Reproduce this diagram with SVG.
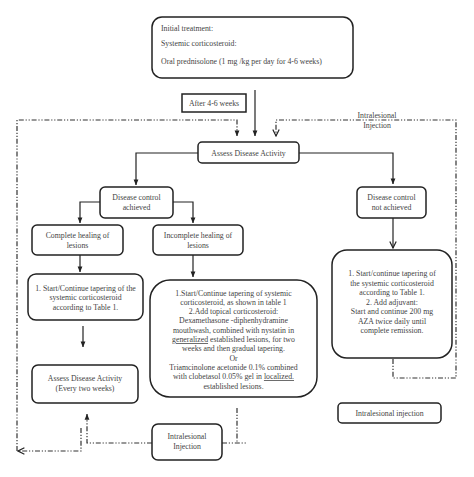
<svg xmlns="http://www.w3.org/2000/svg" width="474" height="477" viewBox="0 0 474 477">
<style>
.bg{fill:#fff}
.box{fill:#fff;stroke:#222;stroke-width:1.5}
.t{font-family:"Liberation Serif","Times New Roman",serif;font-size:7.8px;fill:#444}
.c{text-anchor:middle}
.ln{fill:none;stroke:#222;stroke-width:1.2}
.dd{fill:none;stroke:#333;stroke-width:1.2;stroke-dasharray:5 1.8 1.2 1.8 1.2 1.8}
.u{text-decoration:underline}
</style>
<defs>
<marker id="arr" viewBox="0 0 8 8" refX="7.5" refY="4" markerWidth="6" markerHeight="6" markerUnits="userSpaceOnUse" orient="auto">
<path d="M0,0.8 L8,4 L0,7.2 z" fill="#222"/>
</marker>
<marker id="open" viewBox="0 0 10 10" refX="9" refY="5" markerWidth="8" markerHeight="8" markerUnits="userSpaceOnUse" orient="auto">
<path d="M1,1 L9,5 L1,9" fill="none" stroke="#222" stroke-width="1.5"/>
</marker>
</defs>
<rect class="bg" x="0" y="0" width="474" height="477"/>

<g id="connectors">
<path class="ln" d="M255,90 V136" marker-end="url(#arr)"/>
<path class="dd" d="M81,428 V451 H18" marker-end="url(#open)"/>
<path class="dd" d="M17,451 V120 H237 V136" marker-end="url(#arr)"/>
<path class="dd" d="M393,359 V378 H456 V120 H276 V136" marker-end="url(#open)"/>
<path class="ln" d="M198,153 H136 V185" marker-end="url(#arr)"/>
<path class="ln" d="M299,153 H393 V184" marker-end="url(#arr)"/>
<path class="ln" d="M100,202 H80 V223" marker-end="url(#arr)"/>
<path class="ln" d="M173,202 H193 V223" marker-end="url(#arr)"/>
<path class="ln" d="M393,218 V248" marker-end="url(#open)"/>
<path class="ln" d="M80,255 V272" marker-end="url(#arr)"/>
<path class="ln" d="M193,255 V277" marker-end="url(#arr)"/>
<path class="ln" d="M83,326 V347" marker-end="url(#arr)"/>
<path class="dd" d="M237,408 V443"/>
<path class="dd" d="M222,443 H247"/>
<path class="dd" d="M152,443 H87 V414" marker-end="url(#arr)"/>
<text class="t c" x="377" y="118">Intralesional</text>
<text class="t c" x="377" y="128">Injection</text>
</g>

<g id="initial">
<rect class="box" x="152" y="17" width="201" height="61" rx="10"/>
<text class="t" x="161" y="31">Initial treatment:</text>
<text class="t" x="161" y="46">Systemic corticosteroid:</text>
<text class="t" x="161" y="64">Oral prednisolone (1 mg /kg per day for 4-6 weeks)</text>
</g>

<g id="after">
<rect class="box" x="182" y="94" width="64" height="18"/>
<text class="t c" x="214" y="106">After 4-6 weeks</text>
</g>

<g id="assess">
<rect class="box" x="198" y="142" width="101" height="21" rx="4"/>
<text class="t c" x="248.5" y="155.5">Assess Disease Activity</text>
</g>

<g id="achieved">
<rect class="box" x="100" y="187" width="73" height="31" rx="5"/>
<text class="t c" x="136.5" y="200">Disease control</text>
<text class="t c" x="136.5" y="210">achieved</text>
</g>

<g id="notachieved">
<rect class="box" x="357" y="187" width="69" height="31" rx="5"/>
<text class="t c" x="391.5" y="200">Disease control</text>
<text class="t c" x="391.5" y="210">not achieved</text>
</g>

<g id="complete">
<rect class="box" x="32" y="225" width="91" height="30" rx="5"/>
<text class="t c" x="77.5" y="237.5">Complete healing of</text>
<text class="t c" x="77.5" y="247.5">lesions</text>
</g>

<g id="incomplete">
<rect class="box" x="153" y="225" width="90" height="30" rx="5"/>
<text class="t c" x="198" y="237.5">Incomplete healing of</text>
<text class="t c" x="198" y="247.5">lesions</text>
</g>

<g id="taper-left">
<rect class="box" x="28" y="274" width="115" height="46" rx="8"/>
<text class="t c" x="85.5" y="290.5">1. Start/Continue tapering of the</text>
<text class="t c" x="85.5" y="300">systemic corticosteroid</text>
<text class="t c" x="85.5" y="309.5">according to Table 1.</text>
</g>

<g id="topical">
<rect class="box" x="150" y="280" width="167" height="117" rx="20"/>
<text class="t c" x="233.5" y="295.5">1.Start/Continue tapering of systemic</text>
<text class="t c" x="233.5" y="304.8">corticosteroid, as shown in table 1</text>
<text class="t c" x="233.5" y="314.1">2.Add topical corticosteroid:</text>
<text class="t c" x="233.5" y="323.4">Dexamethasone -diphenhydramine</text>
<text class="t c" x="233.5" y="332.7">mouthwash, combined with nystatin in</text>
<text class="t c" x="233.5" y="342"><tspan class="u">generalized</tspan> established lesions, for two</text>
<text class="t c" x="233.5" y="351.3">weeks and then gradual tapering.</text>
<text class="t c" x="233.5" y="360.6">Or</text>
<text class="t c" x="233.5" y="369.9">Triamcinolone acetonide 0.1% combined</text>
<text class="t c" x="233.5" y="379.2">with clobetasol 0.05% gel in <tspan class="u">localized.</tspan></text>
<text class="t c" x="233.5" y="388.5">established lesions.</text>
</g>

<g id="aza">
<rect class="box" x="332" y="250" width="120" height="108" rx="15"/>
<text class="t c" x="392" y="276">1. Start/continue tapering of</text>
<text class="t c" x="392" y="285.5">the systemic corticosteroid</text>
<text class="t c" x="392" y="295">according to Table 1.</text>
<text class="t c" x="392" y="304.5">2. Add adjuvant:</text>
<text class="t c" x="392" y="314">Start and continue 200 mg</text>
<text class="t c" x="392" y="323.5">AZA twice daily until</text>
<text class="t c" x="392" y="333">complete remission.</text>
</g>

<g id="assess2">
<rect class="box" x="32" y="365" width="106" height="38" rx="6"/>
<text class="t c" x="85" y="381">Assess Disease Activity</text>
<text class="t c" x="85" y="391">(Every two weeks)</text>
</g>

<g id="injection-right">
<rect class="box" x="338" y="403" width="103" height="20" rx="4"/>
<text class="t c" x="389.5" y="415.5">Intralesional injection</text>
</g>

<g id="injection-bottom">
<rect class="box" x="152" y="424" width="70" height="36" rx="6"/>
<text class="t c" x="187" y="439">Intralesional</text>
<text class="t c" x="187" y="449">Injection</text>
</g>
</svg>
